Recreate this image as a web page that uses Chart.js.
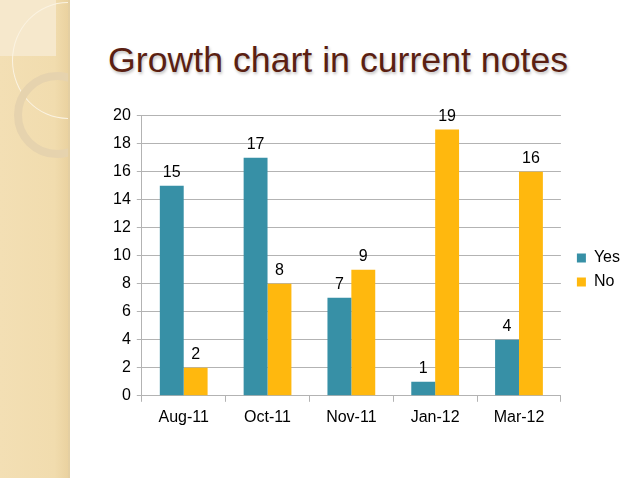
<!DOCTYPE html>
<html>
<head>
<meta charset="utf-8">
<script src="https://cdn.jsdelivr.net/npm/chart.js@4.4.0/dist/chart.umd.min.js"></script>
<style>
  html, body { margin: 0; padding: 0; background: #fff; }
  #slide { position: relative; width: 638px; height: 478px; overflow: hidden; background: #fff; }
  #stripe { position: absolute; left: 0; top: 0; width: 68px; height: 478px; overflow: hidden;
    background: linear-gradient(90deg, #f3dfb4 0%, #f1dcae 80%, #ead2a0 100%);
    border-right: 2px solid #e4cfa2; }
  #corner { position: absolute; left: 0; top: 0; width: 56px; height: 56px; background: #f6e8cc; }
  .circ { position: absolute; border-radius: 50%; }
  #title { position: absolute; left: 108px; top: 40px; font-family: "Liberation Sans", Arial, sans-serif;
    font-size: 35.7px; color: #5b1f12; text-shadow: 1px 2px 3px rgba(0,0,0,0.25); white-space: nowrap; }
  #wrap { position: absolute; left: 86px; top: 100px; width: 552px; height: 333px; }
</style>
</head>
<body>
<div id="slide">
  <div id="stripe">
    <div id="corner"></div>
    <div class="circ" style="left:12px;top:2px;width:110px;height:115px;border:1.5px solid #fbf3e2;"></div>
    <div class="circ" style="left:14px;top:72px;width:70px;height:70px;border:8px solid #e6d3ae;"></div>
  </div>
  <div id="title">Growth chart in current notes</div>
  <div id="wrap"><canvas id="chart"></canvas></div>
</div>
<script>
var months = ['Aug-11', 'Oct-11', 'Nov-11', 'Jan-12', 'Mar-12'];
var yesValues = [15, 17, 7, 1, 4];
var noValues = [2, 8, 9, 19, 16];

var fontFamily = '"Liberation Sans", Arial, sans-serif';

// etiquetas com os valores acima das barras
var valueLabels = {
    id: 'valueLabels',
    afterDatasetsDraw: function (chart) {
        var ctx = chart.ctx;
        ctx.save();
        ctx.font = '16px ' + fontFamily;
        ctx.fillStyle = '#000';
        ctx.textAlign = 'center';
        ctx.textBaseline = 'bottom';
        chart.data.datasets.forEach(function (ds, i) {
            chart.getDatasetMeta(i).data.forEach(function (bar, j) {
                ctx.fillText(ds.data[j], bar.x, bar.y - 5);
            });
        });
        ctx.restore();
    }
};

// eixos vazios, só para ajustar o espaço da área do gráfico
function spacer(pos, size) {
    return {
        type: 'linear',
        position: pos,
        display: true,
        grid: { display: false },
        border: { display: false },
        ticks: { display: false },
        afterFit: function (scale) {
            if (pos === 'top') scale.height = size; else scale.width = size;
        }
    };
}

var ctx = document.getElementById('chart').getContext('2d');
var chart = new Chart(ctx, {
    type: 'bar',
    data: {
        labels: months,
        datasets: [{
            label: 'Yes',
            data: yesValues,
            backgroundColor: '#3790a6'
        }, {
            label: 'No',
            data: noValues,
            backgroundColor: '#ffb80e'
        }]
    },
    options: {
        responsive: true,
        maintainAspectRatio: false,
        animation: false,
        datasets: { bar: { barPercentage: 1, categoryPercentage: 0.57 } },
        layout: { padding: { top: 7, right: 8, bottom: 0, left: 21 } },
        plugins: {
            legend: {
                position: 'right',
                align: 'center',
                labels: {
                    boxWidth: 9, boxHeight: 9, padding: 8,
                    color: '#000',
                    font: { family: fontFamily, size: 16 }
                }
            },
            tooltip: { enabled: false }
        },
        scales: {
            x: {
                grid: { drawOnChartArea: false, offset: true, tickLength: 6, color: '#b3b3b3' },
                border: { color: '#b3b3b3' },
                ticks: { color: '#000', padding: 6, font: { family: fontFamily, size: 16 } }
            },
            y: {
                min: 0, max: 20,
                ticks: { stepSize: 2, color: '#000', padding: 6, font: { family: fontFamily, size: 16 } },
                grid: { color: '#b3b3b3', tickLength: 5 },
                border: { color: '#b3b3b3' }
            },
            padTop: spacer('top', 8),
            padRight: spacer('right', 8)
        }
    },
    plugins: [valueLabels]
});
</script>
</body>
</html>
